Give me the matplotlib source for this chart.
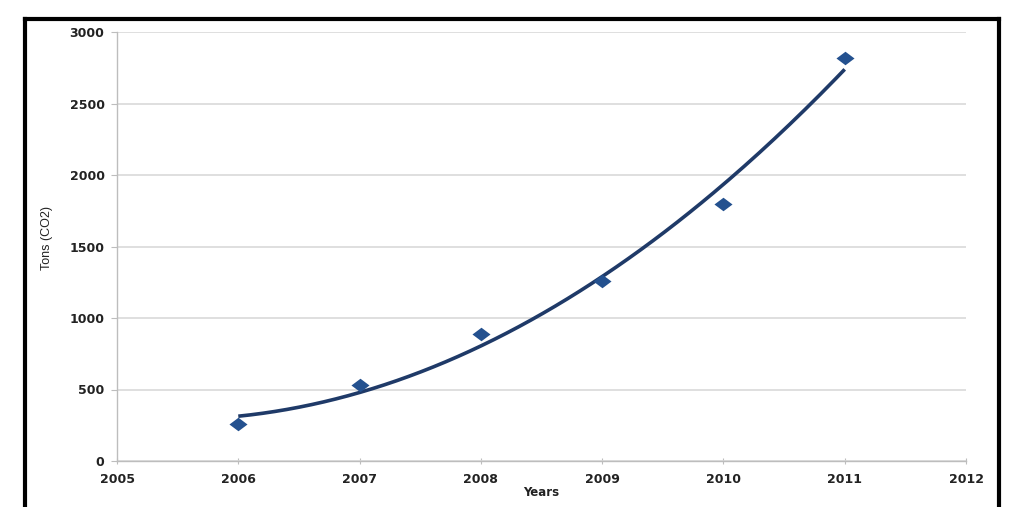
import numpy as np
import matplotlib
matplotlib.use("Agg")
import matplotlib.pyplot as plt
from matplotlib.lines import Line2D

years = [2006, 2007, 2008, 2009, 2010, 2011]
tons_co2 = [260, 530, 890, 1260, 1800, 2820]
x_ticks = [2005, 2006, 2007, 2008, 2009, 2010, 2011, 2012]
y_ticks = [0, 500, 1000, 1500, 2000, 2500, 3000]

W, H = 1013, 507
fig = plt.figure(figsize=(W / 100, H / 100), dpi=100)
ax = fig.add_axes([117 / W, 1 - 461 / H, (966 - 117) / W, (461 - 32) / H])

# polynomial (order 2) trendline fitted to the data
coef = np.polyfit(np.array(years) - 2006, tons_co2, 2)
xt = np.linspace(2006, 2011, 200)
ax.plot(xt, np.polyval(coef, xt - 2006), color="#1F3A68", lw=2.6, zorder=3,
        solid_capstyle="butt")

diamond = [(-1, 0), (0, 0.75), (1, 0), (0, -0.75), (-1, 0)]
ax.plot(years, tons_co2, linestyle="none", marker=diamond, markersize=13,
        color="#24518F", markeredgewidth=0, zorder=4)

ax.set_xlim(2005, 2012)
ax.set_ylim(0, 3000)
ax.set_xticks(x_ticks)
ax.set_yticks(y_ticks)
ax.grid(axis="y", color="#D9D9D9", lw=1.2)
ax.set_axisbelow(True)
for s in ["top", "right"]:
    ax.spines[s].set_visible(False)
for s in ["left", "bottom"]:
    ax.spines[s].set_color("#BDBDBD")
    ax.spines[s].set_linewidth(1.0)
ax.tick_params(axis="y", direction="out", length=4, color="#BDBDBD", pad=5,
               labelsize=9, labelcolor="#222222")
ax.tick_params(axis="x", direction="inout", length=5, color="#BDBDBD", pad=6,
               labelsize=9, labelcolor="#222222")
for lab in ax.get_xticklabels() + ax.get_yticklabels():
    lab.set_fontweight("bold")
    lab.set_family("DejaVu Sans")

fig.text(541 / W, 1 - 493 / H, "Years", ha="center", va="center",
         fontsize=8.5, fontweight="bold", color="#222222", family="DejaVu Sans")
fig.text(47 / W, 1 - 238 / H, "Tons (CO2)", ha="center", va="center",
         rotation=90, fontsize=9, color="#222222", family="Liberation Sans")

# black frame around the chart
lw = 3.0
fig.add_artist(Line2D([25 / W, 25 / W], [1 - 19 / H, -0.05], transform=fig.transFigure,
                      color="black", lw=lw))
fig.add_artist(Line2D([25 / W, 999 / W], [1 - 19 / H, 1 - 19 / H], transform=fig.transFigure,
                      color="black", lw=lw, solid_capstyle="projecting"))
fig.add_artist(Line2D([999 / W, 999 / W], [1 - 19 / H, -0.05], transform=fig.transFigure,
                      color="black", lw=lw))

fig.savefig("out.png", dpi=100)
